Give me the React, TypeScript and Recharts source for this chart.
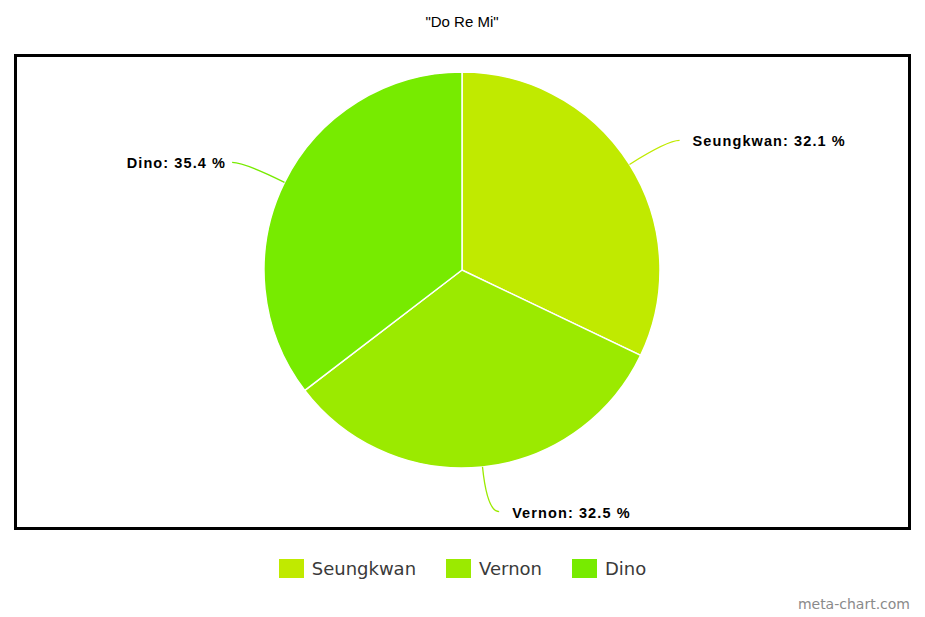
import React from "react";
import { PieChart, Pie, Cell, Legend } from "recharts";

const names = ["Seungkwan", "Vernon", "Dino"];
const shares = [32.1, 32.5, 35.4];
const colors = ["#c0ea00", "#9bea00", "#77eb00"];
const title = '"Do Re Mi"';
const credit = "meta-chart.com";

const data = names.map((n, i) => ({ name: n, value: shares[i] }));

const RAD = Math.PI / 180;

const renderLabel = (props: any) => {
  const { cx, cy, midAngle, outerRadius, index, name, value } = props;
  const c = Math.cos(-midAngle * RAD);
  const s = Math.sin(-midAngle * RAD);
  const side = c >= 0 ? 1 : -1;
  const x0 = cx + outerRadius * c;
  const y0 = cy + outerRadius * s;
  const x1 = cx + (outerRadius + 45) * c;
  const y1 = cy + (outerRadius + 45) * s;
  const x2 = x1 + side * 12;
  const tx = x2 + side * (side > 0 ? 13 : 6);
  return (
    <g key={`lbl-${index}`}>
      <path
        d={`M${x0},${y0} Q${x1},${y1} ${x2},${y1}`}
        fill="none"
        stroke={colors[index]}
        strokeWidth={1.3}
      />
      <text
        x={tx}
        y={y1}
        dy={6}
        textAnchor={side > 0 ? "start" : "end"}
        fontFamily="'Liberation Sans', Arial, sans-serif"
        fontWeight="bold"
        fontSize={14.5}
        letterSpacing={1.1}
        fill="#000"
      >
        {`${name}: ${Number(value).toFixed(1)} %`}
      </text>
    </g>
  );
};

const renderLegend = () => (
  <div
    style={{
      display: "flex",
      justifyContent: "center",
      alignItems: "center",
      fontFamily: "'DejaVu Sans', sans-serif",
      fontSize: 18,
      color: "#3a3a3a",
    }}
  >
    {names.map((n, i) => (
      <div key={n} style={{ display: "flex", alignItems: "center", marginRight: i < names.length - 1 ? 30 : 0 }}>
        <span style={{ width: 25, height: 19, background: colors[i], display: "inline-block", marginRight: 8 }} />
        <span>{n}</span>
      </div>
    ))}
  </div>
);

export default function App() {
  return (
    <div style={{ position: "absolute", left: 0, top: 0, width: 925, height: 617, background: "#fff" }}>
      <svg width={925} height={617} style={{ position: "absolute", left: 0, top: 0 }}>
        <rect x={15.5} y={55.5} width={894} height={473} fill="#fff" stroke="#000" strokeWidth={3} />
        <text x={462} y={27} textAnchor="middle" fontFamily="'Liberation Sans', Arial, sans-serif" fontSize={15} fill="#000">
          {title}
        </text>
        <text x={910} y={609} textAnchor="end" fontFamily="'DejaVu Sans', sans-serif" fontSize={14} fill="#8a8a8a">
          {credit}
        </text>
      </svg>
      <div style={{ position: "absolute", left: 0, top: 0 }}>
        <PieChart width={925} height={617} margin={{ top: 0, right: 0, bottom: 0, left: 0 }}>
          <Pie
            data={data}
            dataKey="value"
            nameKey="name"
            cx={462}
            cy={270}
            outerRadius={198}
            startAngle={90}
            endAngle={-270}
            stroke="#fff"
            strokeWidth={1.5}
            label={renderLabel}
            labelLine={false}
            isAnimationActive={false}
          >
            {data.map((d, i) => (
              <Cell key={d.name} fill={colors[i]} />
            ))}
          </Pie>
          <Legend
            content={renderLegend}
            wrapperStyle={{ position: "absolute", left: 0, top: 558, width: 925 }}
          />
        </PieChart>
      </div>
    </div>
  );
}
